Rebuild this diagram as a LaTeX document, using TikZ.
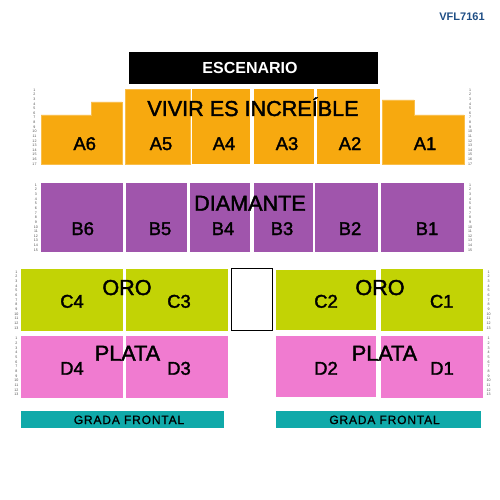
\documentclass[tikz,border=0pt]{standalone}
\usepackage{fontspec}
\usepackage{xcolor}
\setmainfont{Liberation Sans}
\newfontfamily\heavyfont[FakeBold=1.8]{Liberation Sans}
\newfontfamily\spacedfont[FakeBold=0.8,LetterSpace=7]{Liberation Sans}
\definecolor{seatA}{HTML}{F7A90F}
\definecolor{seatB}{HTML}{A055AC}
\definecolor{seatC}{HTML}{C2D305}
\definecolor{seatD}{HTML}{F07BD0}
\definecolor{seatG}{HTML}{10A9A9}
\definecolor{codeblue}{HTML}{1F4E85}
\begin{document}
\begin{tikzpicture}[
x=1pt, y=-1pt,
block/.style={anchor=north west, inner sep=0pt, outer sep=0pt},
blockA/.style={block, fill=seatA},
blockB/.style={block, fill=seatB, minimum height=69},
blockC/.style={block, fill=seatC},
blockD/.style={block, fill=seatD},
blockG/.style={block, fill=seatG, minimum height=17},
seat/.style={anchor=base, inner sep=0pt, font=\heavyfont\fontsize{18.4}{18.4}\selectfont},
zone/.style={anchor=base, inner sep=0pt, font=\heavyfont\fontsize{21.6}{21.6}\selectfont},
stand/.style={anchor=base, inner sep=0pt, font=\spacedfont\fontsize{12}{12}\selectfont},
paleedge/.style={draw=seatA!75!white, line width=0.3pt},
rownum/.style={inner sep=0pt, text=black!70, font=\fontsize{3.6}{3.6}\selectfont}
]
\useasboundingbox (0,0) rectangle (500,500);

\node[anchor=base, inner sep=0pt, text=codeblue, font=\fontsize{11}{11}\selectfont\bfseries] (code) at (462,20.7) {VFL7161};

% stage
\node[block, fill=black, minimum width=249, minimum height=32] (stage) at (129,52) {};
\node[anchor=base, inner sep=0pt, text=white, font=\fontsize{16}{16}\selectfont\bfseries] (stagetext) at (250,73.3) {ESCENARIO};

% row A
\fill[seatA, paleedge] (41,115) -- (91,115) -- (91,102) -- (122,102) -- (122,164) -- (41,164) -- cycle;
\node[blockA, paleedge, minimum width=65, minimum height=75] (a5) at (125,89) {};
\node[blockA, minimum width=58, minimum height=75] (a4) at (192,89) {};
\node[blockA, minimum width=60, minimum height=75] (a3) at (254,89) {};
\node[blockA, minimum width=63, minimum height=75] (a2) at (317,89) {};
\fill[seatA, paleedge] (382,100) -- (414,100) -- (414,115) -- (464,115) -- (464,164) -- (382,164) -- cycle;
\node[seat] (a6t) at (84.7,150) {A6};
\node[seat] (a5t) at (161,150) {A5};
\node[seat] (a4t) at (224,150) {A4};
\node[seat] (a3t) at (287,150) {A3};
\node[seat] (a2t) at (350,150) {A2};
\node[seat] (a1t) at (425,150) {A1};
\node[zone] (vivir) at (253,116) {VIVIR ES INCREÍBLE};

% row B
\node[blockB, minimum width=82] (b6) at (41,183) {};
\node[blockB, minimum width=61] (b5) at (126,183) {};
\node[blockB, minimum width=60] (b4) at (190,183) {};
\node[blockB, minimum width=59] (b3) at (254,183) {};
\node[blockB, minimum width=63] (b2) at (315,183) {};
\node[blockB, minimum width=83] (b1) at (381,183) {};
\node[seat] (b6t) at (82.7,235) {B6};
\node[seat] (b5t) at (160,235) {B5};
\node[seat] (b4t) at (223,235) {B4};
\node[seat] (b3t) at (282,235) {B3};
\node[seat] (b2t) at (350,235) {B2};
\node[seat] (b1t) at (427,235) {B1};
\node[zone] (diamante) at (250,210.7) {DIAMANTE};

% row C
\node[blockC, minimum width=102, minimum height=62] (c4) at (21,269) {};
\node[blockC, minimum width=102, minimum height=62] (c3) at (126,269) {};
\node[block, draw=black, line width=0.9pt, minimum width=41, minimum height=62] (gap) at (231.5,268.5) {};
\node[blockC, minimum width=100, minimum height=60] (c2) at (276,270) {};
\node[blockC, minimum width=102, minimum height=62] (c1) at (381,269) {};
\node[seat] (c4t) at (72,307.7) {C4};
\node[seat] (c3t) at (179,307.7) {C3};
\node[seat] (c2t) at (326,307.7) {C2};
\node[seat] (c1t) at (441.7,307.7) {C1};
\node[zone] (oroa) at (127,295) {ORO};
\node[zone] (orob) at (380,295) {ORO};

% row D
\node[blockD, minimum width=102, minimum height=62] (d4) at (21,336) {};
\node[blockD, minimum width=102, minimum height=62] (d3) at (126,336) {};
\node[blockD, minimum width=100, minimum height=61] (d2) at (276,336) {};
\node[blockD, minimum width=102, minimum height=62] (d1) at (381,336) {};
\node[seat] (d4t) at (72,374.7) {D4};
\node[seat] (d3t) at (179,374.7) {D3};
\node[seat] (d2t) at (326,374.7) {D2};
\node[seat] (d1t) at (442,374.7) {D1};
\node[zone] (plataa) at (127.5,360.7) {PLATA};
\node[zone] (platab) at (384.5,360.7) {PLATA};

% front stand
\node[blockG, minimum width=203] (grada1) at (21,411) {};
\node[blockG, minimum width=205] (grada2) at (276,411) {};
\node[stand] (grada1t) at (129,424) {GRADA FRONTAL};
\node[stand] (grada2t) at (384.5,424) {GRADA FRONTAL};

% row numbers
\foreach \x/\ya/\yb/\n in {34.5/90/164/17, 470/90/164/17, 36/185/250/15, 470/185/250/15,
  16.5/272/328/13, 488.5/272/328/13, 16.5/338.5/394.5/13, 488.5/338.5/394.5/13}
  \foreach \i in {1,...,\n}
    \node[rownum] (n\x-\ya-\i) at (\x,{\ya+(\i-1)*(\yb-\ya)/(\n-1)}) {\i};
\end{tikzpicture}
\end{document}
